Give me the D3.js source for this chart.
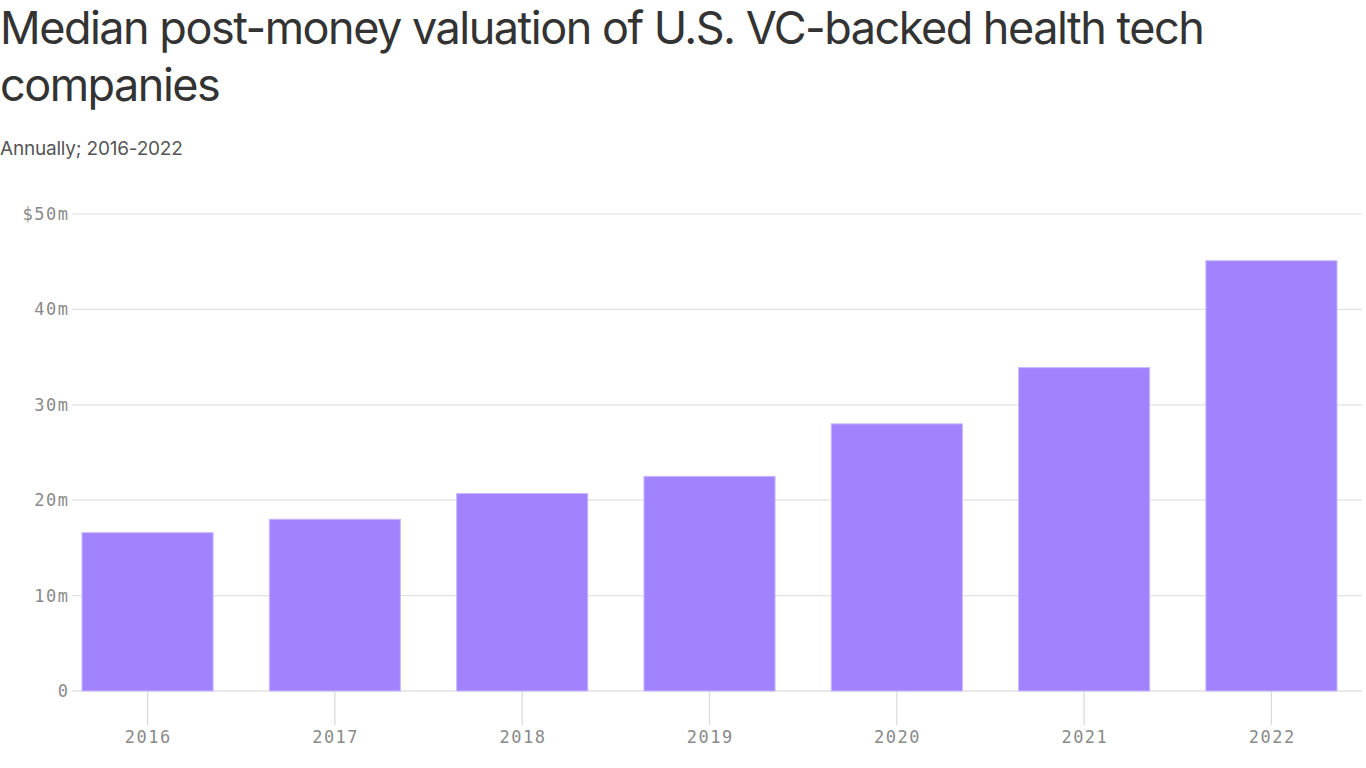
<!DOCTYPE html>
<html>
<head>
<meta charset="utf-8">
<script src="https://cdn.jsdelivr.net/npm/d3@7"></script>
<style>
  body { margin: 0; background: #fff; }
  svg text { font-family: "DejaVu Sans Mono", monospace; }
  .title { font-family: Inter, "Noto Sans", sans-serif; font-size: 45px; fill: #333; letter-spacing: -1.5px; }
  .subtitle { font-family: Inter, "Noto Sans", sans-serif; font-size: 19px; fill: #555; letter-spacing: -0.2px; }
  .tick { font-size: 17px; fill: #8a8a8a; letter-spacing: 1.5px; }
</style>
</head>
<body>
<div class="chart"></div>
<script>
// data
var years = ['2016', '2017', '2018', '2019', '2020', '2021', '2022'];
var valuations = [16.6, 18.0, 20.7, 22.5, 28.0, 33.9, 45.1];
var yTicks = [0, 10, 20, 30, 40, 50];

var width = 1366, height = 768;

var svg = d3.select('.chart')
  .append('svg')
  .attr('width', width)
  .attr('height', height);

// title + subtitle
svg.append('text').attr('class', 'title').attr('x', 0).attr('y', 44)
  .text('Median post-money valuation of U.S. VC-backed health tech');
svg.append('text').attr('class', 'title').attr('x', 0).attr('y', 101)
  .text('companies');
svg.append('text').attr('class', 'subtitle').attr('x', 0).attr('y', 155)
  .text('Annually; 2016-2022');

// scales
var x = d3.scaleBand()
  .domain(years)
  .range([82, 1337])
  .paddingInner(0.3)
  .paddingOuter(0);

var y = d3.scaleLinear()
  .domain([0, 50])
  .range([691, 214]);

// gridlines
svg.selectAll('.grid')
  .data(yTicks)
  .enter()
  .append('line')
  .attr('x1', 72)
  .attr('x2', 1362)
  .attr('y1', function(d){ return y(d); })
  .attr('y2', function(d){ return y(d); })
  .style('stroke', function(d){ return d === 0 ? '#d4d4d4' : '#e2e2e2'; })
  .style('stroke-width', 1.2);

// y labels (letter-spacing adds a trailing gap, so shift right a bit)
svg.selectAll('.ylab')
  .data(yTicks)
  .enter()
  .append('text')
  .attr('class', 'tick')
  .attr('x', 69.5)
  .attr('y', function(d){ return y(d); })
  .attr('dy', '0.35em')
  .attr('text-anchor', 'end')
  .text(function(d){ return d === 0 ? '0' : (d === 50 ? '$' + d + 'm' : d + 'm'); });

// x ticks
svg.selectAll('.xtick')
  .data(years)
  .enter()
  .append('line')
  .attr('x1', function(d){ return x(d) + x.bandwidth() / 2; })
  .attr('x2', function(d){ return x(d) + x.bandwidth() / 2; })
  .attr('y1', y(0))
  .attr('y2', y(0) + 34)
  .style('stroke', '#d8d8d8')
  .style('stroke-width', 1.2);

svg.selectAll('.xlab')
  .data(years)
  .enter()
  .append('text')
  .attr('class', 'tick')
  .attr('x', function(d){ return x(d) + x.bandwidth() / 2 + 0.75; })
  .attr('y', 737)
  .attr('dy', '0.35em')
  .attr('text-anchor', 'middle')
  .text(function(d){ return d; });

// bars
svg.selectAll('.bar')
  .data(valuations)
  .enter()
  .append('rect')
  .attr('class', 'bar')
  .attr('x', function(d, i){ return x(years[i]); })
  .attr('width', x.bandwidth())
  .attr('y', function(d){ return y(d); })
  .attr('height', function(d){ return y(0) - y(d); })
  .style('fill', '#a283ff')
  .style('stroke', '#c9b8ff')
  .style('stroke-width', 1);
</script>
</body>
</html>
